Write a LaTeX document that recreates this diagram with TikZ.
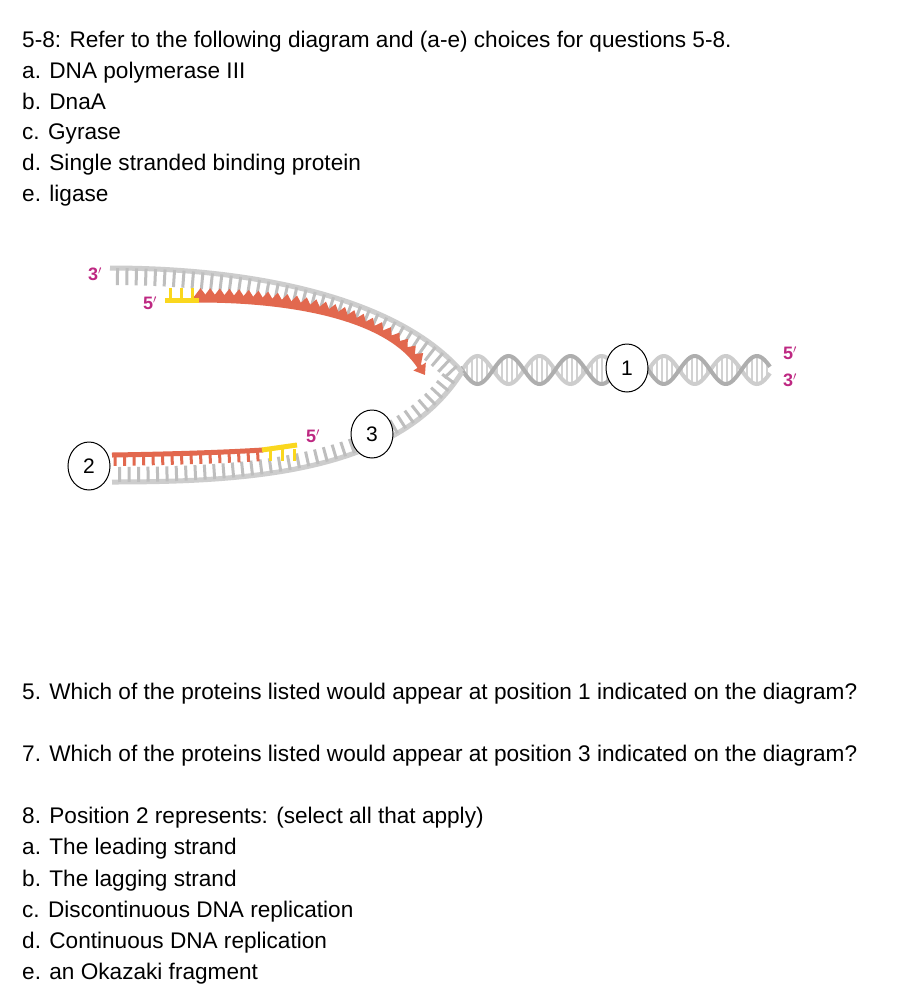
\documentclass[tikz,border=0pt]{standalone}
\usepackage{fontspec}
\setmainfont{Liberation Sans}
\usetikzlibrary{decorations.markings,arrows.meta,shapes.geometric}
\definecolor{bb}{RGB}{205,205,205}
\definecolor{rung}{RGB}{190,190,190}
\definecolor{redst}{RGB}{226,104,78}
\definecolor{yel}{RGB}{250,215,30}
\definecolor{mag}{RGB}{190,40,130}
\begin{document}
\begin{tikzpicture}[x=1pt,y=-1pt,
  txt/.style={anchor=base west,font=\fontsize{22.6}{26}\selectfont,inner sep=0},
  posmark/.style={draw=black,line width=1pt,ellipse,minimum width=42pt,minimum height=48pt,fill=white,font=\fontsize{21}{23}\selectfont,inner sep=0},
  prime/.style={text=mag,font=\bfseries\fontsize{18}{20}\selectfont,inner sep=0},
  rungsdown/.style={postaction={decorate,decoration={markings,mark=between positions 0.02 and 0.98 step 9.5pt with {\draw[rung,line width=3pt] (0,0) -- (0,-17pt);}}}},
  rungsup/.style={postaction={decorate,decoration={markings,mark=between positions 0.02 and 0.98 step 9.5pt with {\draw[rung,line width=3pt] (0,0) -- (0,15pt);}}}},
  redup/.style={postaction={decorate,decoration={markings,mark=between positions 0.01 and 0.95 step 9.5pt with {\draw[redst,line width=3pt] (0,0) -- (0,12pt);}}}},
  reddown/.style={postaction={decorate,decoration={markings,mark=between positions 0.02 and 0.99 step 9.5pt with {\draw[redst,line width=3pt] (0,0) -- (0,-11pt);}}}},
  ]
\useasboundingbox (0,0) rectangle (914,994);
\fill[white] (0,0) rectangle (914,994);
% text
\node[txt] (t0) at (22,47) {5-8: Refer to the following diagram and (a-e) choices for questions 5-8.};
\node[txt] (t1) at (22,78) {a. DNA polymerase III};
\node[txt] (t2) at (22,109) {b. DnaA};
\node[txt] (t3) at (22,139) {c. Gyrase};
\node[txt] (t4) at (22,170) {d. Single stranded binding protein};
\node[txt] (t5) at (22,201) {e. ligase};
\node[txt] (q5) at (22,699) {5. Which of the proteins listed would appear at position 1 indicated on the diagram?};
\node[txt] (q7) at (22,761) {7. Which of the proteins listed would appear at position 3 indicated on the diagram?};
\node[txt] (q8) at (22,823) {8. Position 2 represents: (select all that apply)};
\node[txt] (o1) at (22,854) {a. The leading strand};
\node[txt] (o2) at (22,886) {b. The lagging strand};
\node[txt] (o3) at (22,917) {c. Discontinuous DNA replication};
\node[txt] (o4) at (22,948) {d. Continuous DNA replication};
\node[txt] (o5) at (22,979) {e. an Okazaki fragment};
% helix
\foreach \x in {462,467,...,768} {
  \draw[rung!70,line width=1.6pt] (\x,{370-14*sin(5.8*(\x-462))}) -- (\x,{370+14*sin(5.8*(\x-462))});
}
\draw[bb,line width=4pt,domain=460:770,samples=160] plot (\x,{370-14*sin(5.8*(\x-462))});
\draw[bb!85!black,line width=4pt,domain=460:770,samples=160] plot (\x,{370+14*sin(5.8*(\x-462))});
% top strand
\draw[bb,line width=5pt,rungsdown] (110,268) .. controls (260,268) and (400,300) .. (462,372);
% bottom strand
\draw[bb,line width=5pt,rungsup] (112,482) .. controls (260,482) and (400,470) .. (462,372);
% top new strand
\draw[redst,line width=5pt,redup,-{Triangle[length=10pt,width=14pt]}] (198,300) .. controls (300,300) and (390,320) .. (425,375);
\draw[yel,line width=5pt] (165,300) -- (199,300);
\foreach \x in {170,181,192} \draw[yel,line width=3pt] (\x,300) -- (\x,288);
% bottom new strand
\draw[redst,line width=5pt,reddown] (112,455) .. controls (180,454) and (230,452) .. (263,450);
\draw[yel,line width=5pt] (262,450) -- (297,445);
\foreach \x in {270,282,294} \draw[yel,line width=3pt] (\x,449) -- (\x,461);
% labels
\node[prime] (p1) at (95,274) {3$'$};
\node[prime] (p2) at (150,303) {5$'$};
\node[prime] (p3) at (313,436) {5$'$};
\node[prime] (p4) at (790,353) {5$'$};
\node[prime] (p5) at (790,380) {3$'$};
\node[posmark] (c1) at (627,368) {1};
\node[posmark] (c2) at (89,466) {2};
\node[posmark] (c3) at (372,434) {3};
\end{tikzpicture}
\end{document}
